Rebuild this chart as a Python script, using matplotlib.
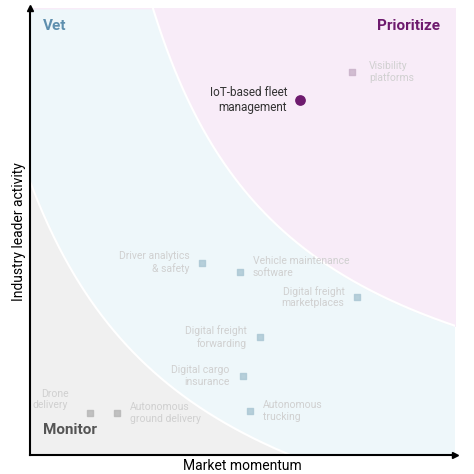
import matplotlib
matplotlib.use("Agg")
import matplotlib.pyplot as plt
import numpy as np

names = ["Visibility\nplatforms", "IoT-based fleet\nmanagement", "Driver analytics\n& safety",
         "Vehicle maintenance\nsoftware", "Digital freight\nmarketplaces", "Digital freight\nforwarding",
         "Digital cargo\ninsurance", "Autonomous\ntrucking", "Autonomous\nground delivery", "Drone\ndelivery"]
xs = [75.8, 63.5, 40.5, 49.4, 77.0, 54.0, 50.0, 51.8, 20.5, 14.0]
ys = [85.7, 79.4, 43.0, 41.0, 35.3, 26.4, 17.7, 9.8, 9.4, 9.4]
highlight = [False, True, False, False, False, False, False, False, False, False]
zone = ["p", "p", "v", "v", "v", "v", "v", "v", "m", "m"]
# label placement: (dx, dy, ha)
place = [(4, 0, "left"), (-3, 0, "right"), (-3, 0, "right"), (3, 1, "left"), (-3, 0, "right"),
         (-3, 0, "right"), (-3, 0, "right"), (3, 0, "left"), (3, 0, "left"), (-5, 3, "right")]

fig = plt.figure(figsize=(4.74, 4.74), dpi=100)
ax = fig.add_axes([30/474, 19/474, 425/474, 447/474])
ax.set_xlim(0, 100); ax.set_ylim(0, 100)

ax.add_patch(plt.Rectangle((0, 0), 100, 100, color="#eef7fa", zorder=0))
xx = np.linspace(0.01, 100, 400)
yp = 3560 / (xx + 5) - 5
ax.fill_between(xx, np.clip(yp, 0, 100), 100, color="#f8ecf8", zorder=1)
ax.plot(xx, yp, color="white", lw=1.5, zorder=2)
ym = 4050 / (xx + 40) - 40
ax.fill_between(xx, 0, np.clip(ym, 0, 100), color="#f0f0f0", zorder=1)
ax.plot(xx, ym, color="white", lw=1.5, zorder=2)

for x, y, n, h, z, (dx, dy, ha) in zip(xs, ys, names, highlight, zone, place):
    if h:
        ax.scatter(x, y, s=45, color="#6e1a6e", zorder=4)
        ax.text(x + dx, y + dy, n, ha=ha, va="center", fontsize=8.5, color="#333333",
                family="Roboto", zorder=4)
    else:
        c = {"p": "#c8b0c8", "v": "#a9c6d3", "m": "#b5b5b5"}[z]
        ax.scatter(x, y, s=20, marker="s", color=c, alpha=0.8, zorder=3)
        ax.text(x + dx, y + dy, n, ha=ha, va="center", fontsize=7.5, color="#d0d0d0",
                family="Roboto", zorder=3)

ax.text(3, 96, "Vet", fontsize=11, fontweight="bold", color="#5e8fae", family="Roboto", va="center")
ax.text(96.5, 96, "Prioritize", fontsize=11, fontweight="bold", color="#6e1a6e", family="Roboto",
        va="center", ha="right")
ax.text(3, 5.5, "Monitor", fontsize=11, fontweight="bold", color="#555555", family="Roboto", va="center")

for s in ["top", "right"]:
    ax.spines[s].set_visible(False)
ax.spines["left"].set_linewidth(1.5)
ax.spines["bottom"].set_linewidth(1.5)
ax.plot(0, 1, "^k", transform=ax.transAxes, clip_on=False, ms=5)
ax.plot(1, 0, ">k", transform=ax.transAxes, clip_on=False, ms=5)
ax.set_xticks([]); ax.set_yticks([])
ax.set_xlabel("Market momentum", fontsize=10, family="Roboto", labelpad=3)
ax.set_ylabel("Industry leader activity", fontsize=10, family="Roboto", labelpad=3)
fig.savefig("out.png", dpi=100)
